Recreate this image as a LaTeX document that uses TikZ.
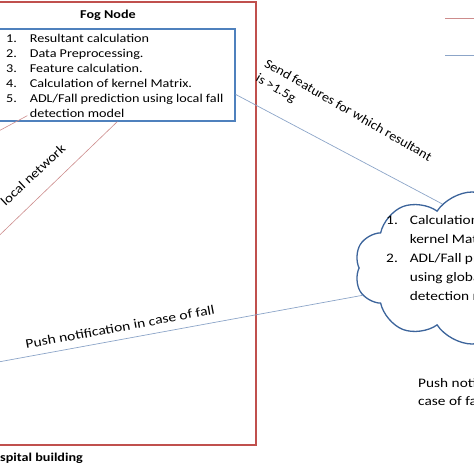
\documentclass[tikz,border=0pt]{standalone}
\usepackage{fontspec}
\setmainfont{Carlito}
\usetikzlibrary{shapes.symbols,calc}

\definecolor{hospred}{RGB}{192,80,77}
\definecolor{fogblue}{RGB}{79,129,189}
\definecolor{cloudblue}{RGB}{60,100,155}
\definecolor{redlink}{RGB}{205,140,140}
\definecolor{bluelink}{RGB}{140,165,200}

\tikzset{
  hospbox/.style={draw=hospred,line width=1.4pt},
  fogbox/.style={draw=fogblue,line width=1.3pt},
  cloudbox/.style={cloud,cloud puffs=10,cloud puff arc=115,cloud ignores aspect,draw=cloudblue,line width=1.3pt},
  redwire/.style={draw=redlink,line width=0.6pt},
  bluewire/.style={draw=bluelink,line width=0.7pt},
  wide/.style={xscale=1.18},
  linklabel/.style={font=\fontsize{13}{17}\selectfont,inner sep=0pt}
}

\newcommand{\itemno}[1]{\makebox[20pt][l]{#1}}

\begin{document}
\begin{tikzpicture}[x=1pt,y=-1pt]
\useasboundingbox (0,0) rectangle (474,474);
\clip (0,0) rectangle (474,474);

\node[hospbox,minimum width=316pt,minimum height=443pt] (hosp) at (98,223.5){};
\node[wide,font=\bfseries\fontsize{12}{14}\selectfont,anchor=east] (hosplabel) at (87,458){Hospital building};
\node[wide,font=\bfseries\fontsize{12}{14}\selectfont] (fogtitle) at (108,15){Fog Node};
\node[fogbox,minimum width=275pt,minimum height=92pt] (fog) at (97.5,75){};
\node[wide,anchor=north west,align=left,inner sep=0pt,font=\fontsize{12}{15}\selectfont] (foglist) at (6,34){%
\itemno{1.}Resultant calculation\\
\itemno{2.}Data Preprocessing.\\
\itemno{3.}Feature calculation.\\
\itemno{4.}Calculation of  kernel  Matrix.\\
\itemno{5.}ADL/Fall prediction using local fall\\
\itemno{}detection model};

\node[cloudbox,minimum width=235pt,minimum height=152pt] (cloud) at (472,268){};
\node[wide,anchor=north west,align=left,inner sep=0pt,font=\fontsize{13}{19}\selectfont] (cloudlist) at (386,215){%
\itemno{1.}Calculation of\\
\itemno{}kernel  Matrix.\\
\itemno{2.}ADL/Fall prediction\\
\itemno{}using  global fall\\
\itemno{}detection model};
\node[wide,anchor=north west,align=left,inner sep=0pt,font=\fontsize{13}{18}\selectfont] (cloudnote) at (418,378){Push notification in\\case of fall};

% legend
\draw[redwire] (445,18) -- (490,18);
\draw[bluewire] (445,55) -- (490,55);

% links
\coordinate (sensorstart) at (-20,141);
\coordinate (lanstart) at (-20,254);
\coordinate (pushstart) at (-40,369);
\draw[redwire] (sensorstart) -- ($(fog.south west)+(68,-6)$);
\draw[redwire] (lanstart) -- (fog.-67);
\draw[bluewire] (fog.-8) -- (cloud.115);
\draw[bluewire] (pushstart) -- (cloud.194);

\node[linklabel,rotate=43,xscale=1.16] (lanlabel) at (33,175){local network};
\node[linklabel,rotate=-30,xscale=1.09,anchor=north west,align=left] (sendlabel) at (268,58){Send features  for which resultant\\is >1.5g};
\node[linklabel,rotate=10.5,xscale=1.2] (pushlabel) at (120,327){Push notification in case of fall};
\end{tikzpicture}
\end{document}
